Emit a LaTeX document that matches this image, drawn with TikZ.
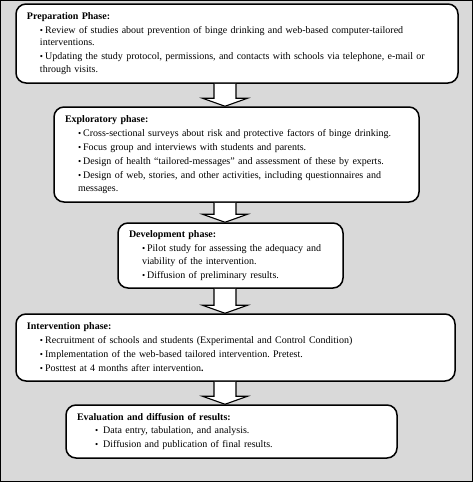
\documentclass[tikz,border=0pt]{standalone}
\usepackage{fontspec}
\setmainfont{Liberation Serif}
\usetikzlibrary{calc}

\definecolor{bgGray}{RGB}{217,217,217}

% bullet line of a phase box, continuation lines start under the bullet
\newcommand{\phaseitem}[1]{{\leftskip=13pt\relax\vspace{1.5pt}{\small\textbullet}\hspace{2pt}#1\par}}
\newcommand{\resultitem}[1]{{\leftskip=18pt\relax\vspace{1pt}{\small\textbullet}\hspace{5pt}#1\par}}
\frenchspacing

\begin{document}
\begin{tikzpicture}[x=1pt, y=-1pt,
    phase/.style={draw, rounded corners=10pt, line width=1.5pt, fill=white, inner xsep=11pt, inner ysep=0pt, align=left, font=\fontsize{10}{12.5}\selectfont},
    flowarrow/.style={draw, fill=white, line width=1.1pt, line join=miter}]

    % Background
    \useasboundingbox (0,0) rectangle (473,482);
    \draw[fill=bgGray, line width=1pt] (0.5,0.5) rectangle (472.5,481.5);
    \coordinate (axis) at (225,0);

    % Preparation phase
    \node[phase, text width=420pt, minimum height=79pt] (prep) at (237,43.5) {%
        \textbf{Preparation Phase:}\par
        \phaseitem{Review of studies about prevention of binge drinking and web-based computer-tailored\newline interventions.}
        \phaseitem{Updating the study protocol, permissions, and contacts with schools via telephone, e-mail or\newline through visits.}};

    % Exploratory phase
    \node[phase, text width=343pt, minimum height=95pt] (expl) at (236.5,154.5) {%
        \textbf{Exploratory phase:}\par
        \phaseitem{Cross-sectional surveys about risk and protective factors of binge drinking.}
        \phaseitem{Focus group and interviews with students and parents.}
        \phaseitem{Design of health “tailored-messages” and assessment of these by experts.}
        \phaseitem{Design of web, stories, and other activities, including questionnaires and\newline messages.}};

    % Development phase
    \node[phase, text width=203pt, minimum height=65pt] (devel) at (230.5,255.5) {%
        \textbf{Development phase:}\par
        \phaseitem{Pilot study for assessing the adequacy and\newline viability of the intervention.}
        \phaseitem{Diffusion of preliminary results.}};

    % Intervention phase
    \node[phase, text width=417pt, minimum height=67pt] (interv) at (235.5,347.5) {%
        \textbf{Intervention phase:}\par
        \phaseitem{Recruitment of schools and students (Experimental and Control Condition)}
        \phaseitem{Implementation of the web-based tailored intervention. Pretest.}
        \phaseitem{Posttest at 4 months after intervention\textbf{.}}};

    % Evaluation and diffusion
    \node[phase, text width=309pt, minimum height=53pt] (eval) at (231.5,431.5) {%
        \textbf{Evaluation and diffusion of results:}\par
        \resultitem{Data entry, tabulation, and analysis.}
        \resultitem{Diffusion and publication of final results.}};

    % Block arrows between the phases
    \foreach \a/\b in {prep/expl, expl/devel, devel/interv, interv/eval}
        \draw[flowarrow] let \p1=(\a.south -| axis), \p2=(\b.north -| axis) in
            (\x1-11pt,\y1) -- (\x1-11pt,\y2+8pt) -- (\x1-22.5pt,\y2+8pt) -- (\x2,\y2)
            -- (\x1+22.5pt,\y2+8pt) -- (\x1+11pt,\y2+8pt) -- (\x1+11pt,\y1);

\end{tikzpicture}
\end{document}
